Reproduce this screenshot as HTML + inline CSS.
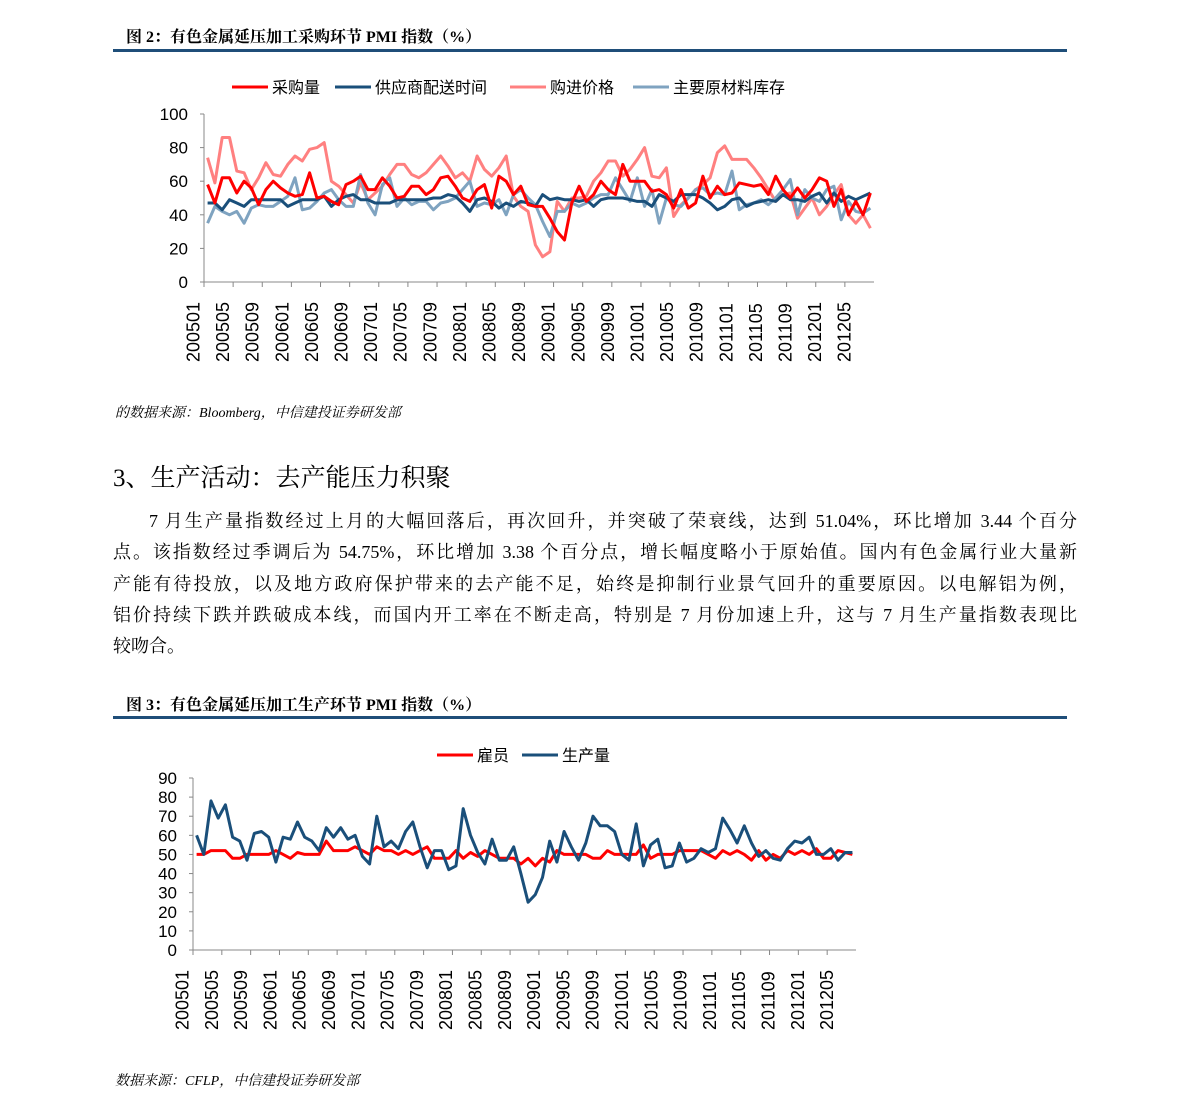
<!DOCTYPE html>
<html><head><meta charset="utf-8"><style>
body{margin:0;width:1191px;height:1108px;background:#fff;position:relative;font-family:"Liberation Serif","Noto Serif CJK SC",serif;color:#000;overflow:hidden}
.abs{position:absolute}
.cap{font-weight:bold;font-size:16px;left:126px}
.rule{left:113px;width:954px;height:3px;background:#1f4e79}
.src{font-style:italic;font-size:14px;left:115px}
.body{left:113px;width:964px;font-size:18px}
.body div{height:31.3px;line-height:31.3px;text-align:justify;text-align-last:justify;white-space:nowrap}
</style></head><body>
<div class="abs cap" style="top:24px">图 2：有色金属延压加工采购环节 PMI 指数（%）</div>
<div class="abs rule" style="top:49px"></div>
<div class="abs cap" style="top:692px">图 3：有色金属延压加工生产环节 PMI 指数（%）</div>
<div class="abs rule" style="top:716px"></div>
<div class="abs src" style="top:402px">的数据来源：Bloomberg，中信建投证券研发部</div>
<div class="abs src" style="top:1070px">数据来源：CFLP，中信建投证券研发部</div>
<div class="abs" style="left:113px;top:458px;font-size:25px">3、生产活动：去产能压力积聚</div>
<div class="abs body" style="top:506px">
<div style="text-indent:36px">7 月生产量指数经过上月的大幅回落后，再次回升，并突破了荣衰线，达到 51.04%，环比增加 3.44 个百分</div>
<div>点。该指数经过季调后为 54.75%，环比增加 3.38 个百分点，增长幅度略小于原始值。国内有色金属行业大量新</div>
<div>产能有待投放，以及地方政府保护带来的去产能不足，始终是抑制行业景气回升的重要原因。以电解铝为例，</div>
<div>铝价持续下跌并跌破成本线，而国内开工率在不断走高，特别是 7 月份加速上升，这与 7 月生产量指数表现比</div>
<div style="text-align-last:left">较吻合。</div>
</div>
<svg class="abs" style="left:0;top:0" width="1191" height="1108" id="s"></svg>
<script>
var s=document.getElementById('s'),h='';
function T(x,y,t,sz,a,r){h+='<text x="'+x+'" y="'+y+'" font-family="Liberation Sans,Noto Sans CJK SC,sans-serif" font-size="'+sz+'" text-anchor="'+(a||'start')+'"'+(r?' transform="rotate(-90 '+x+' '+y+')"':'')+'>'+t+'</text>';}
function chart(o){
 var x0=o.x0,x1=o.x1,y0=o.y0,y1=o.y1,n=92,dx=(x1-x0)/n;
 h+='<line x1="'+x0+'" y1="'+y1+'" x2="'+x0+'" y2="'+y0+'" stroke="#888"/>';
 h+='<line x1="'+x0+'" y1="'+y0+'" x2="'+x1+'" y2="'+y0+'" stroke="#888"/>';
 for(var v=0;v<=o.max;v+=o.step){var y=y0-(y0-y1)*v/o.max;T(x0-16,y+6,v,17,'end');h+='<line x1="'+(x0-4)+'" y1="'+y+'" x2="'+x0+'" y2="'+y+'" stroke="#888"/>';}
 var labs=['200501','200505','200509','200601','200605','200609','200701','200705','200709','200801','200805','200809','200901','200905','200909','201001','201005','201009','201101','201105','201109','201201','201205'];
 for(var i=0;i<labs.length;i++){var c=o.lc+o.ls*i;T(c+6.5,o.ly,labs[i],18,'start',1);h+='<line x1="'+(x0+dx*i*4)+'" y1="'+y0+'" x2="'+(x0+dx*i*4)+'" y2="'+(y0+5)+'" stroke="#888"/>';}
 o.s.forEach(function(se){var d=se.d,m=d.length,p=[];for(var i=0;i<m;i++){p.push((x0+(x1-x0)*(i+0.5)/m).toFixed(1)+','+(y0-(y0-y1)*d[i]/o.max).toFixed(1));}
  h+='<polyline fill="none" stroke="'+se.c+'" stroke-width="3" stroke-linejoin="round" points="'+p.join(' ')+'"/>';});
}
var red1=[58,47,62,62,53,60,56,46,55,60,56,53,51,52,65,50,51,48,46,58,60,63,55,55,62,57,50,51,57,57,52,55,62,63,57,50,48,55,58,44,63,60,52,57,46,45,45,38,30,25,47,57,48,52,60,55,52,70,60,60,60,54,55,52,44,55,44,47,63,50,57,52,53,59,58,57,58,52,63,55,50,56,50,55,62,60,45,55,40,48,40,53];
var pink=[74,59,86,86,66,65,55,62,71,64,63,70,75,72,79,80,83,60,57,52,47,59,49,53,57,64,70,70,64,62,65,70,75,69,62,65,60,75,67,63,68,75,51,45,42,22,15,18,48,42,50,50,51,60,65,72,72,63,67,73,80,63,62,68,39,46,50,55,58,62,77,81,73,73,73,68,62,55,48,52,53,38,44,50,40,45,52,58,40,35,40,32];
var dk=[47,47,43,49,47,45,49,49,49,49,49,45,47,49,49,49,51,45,49,51,52,49,49,47,47,47,49,49,49,49,49,50,50,52,51,47,42,49,50,48,44,47,45,48,47,45,52,49,50,49,49,48,49,45,49,50,50,50,49,48,48,45,52,50,48,52,52,52,50,47,43,45,49,50,45,47,48,49,48,52,49,49,48,51,53,47,53,48,51,49,51,53];
var lb=[35,45,42,40,42,35,44,46,45,45,48,51,62,43,44,48,53,55,49,45,45,64,47,40,58,62,45,50,46,48,48,43,47,48,50,55,60,45,47,46,49,40,52,55,50,46,36,27,42,42,47,45,47,50,52,52,62,55,48,62,45,55,35,50,46,45,50,55,56,52,53,52,66,43,46,47,49,46,50,55,61,40,55,50,48,55,57,37,48,42,41,44];
chart({x0:204,x1:874,y0:282,y1:114,max:100,step:20,ly:362,lc:193,ls:29.6,s:[{c:'#ff8080',d:pink},{c:'#7fa3c0',d:lb},{c:'#1a4f7a',d:dk},{c:'#ff0000',d:red1}]});
var prod=[60,50,78,69,76,59,57,47,61,62,59,46,59,58,67,59,57,52,64,59,64,58,60,49,45,70,54,57,53,62,67,54,43,52,52,42,44,74,60,51,45,58,47,47,54,40,25,29,38,57,46,62,54,47,56,70,65,65,62,50,47,66,44,55,58,43,44,56,46,48,53,51,53,69,63,56,65,56,49,52,48,47,53,57,56,59,50,50,53,47,51,51];
var emp=[50,50,52,52,52,48,48,50,50,50,50,52,50,48,51,50,50,50,57,52,52,52,54,52,50,54,52,52,50,52,50,52,54,48,48,48,52,48,51,49,52,50,48,48,48,45,48,44,48,46,52,50,50,50,50,48,48,52,50,50,50,50,55,48,50,50,50,52,52,52,52,50,48,52,50,52,50,47,52,47,50,48,52,50,52,50,53,48,48,52,51,50];
chart({x0:193,x1:856,y0:950,y1:778,max:90,step:10,ly:1030,lc:182,ls:29.3,s:[{c:'#ff0000',d:emp},{c:'#1a4f7a',d:prod}]});
function leg(x,y,c,t){h+='<line x1="'+x+'" y1="'+y+'" x2="'+(x+36)+'" y2="'+y+'" stroke="'+c+'" stroke-width="3"/>';T(x+40,y+6,t,16);}
leg(232,87,'#ff0000','采购量');leg(335,87,'#1a4f7a','供应商配送时间');leg(510,87,'#ff8080','购进价格');leg(633,87,'#7fa3c0','主要原材料库存');
leg(437,755,'#ff0000','雇员');leg(522,755,'#1a4f7a','生产量');
s.innerHTML=h;
</script>
</body></html>
